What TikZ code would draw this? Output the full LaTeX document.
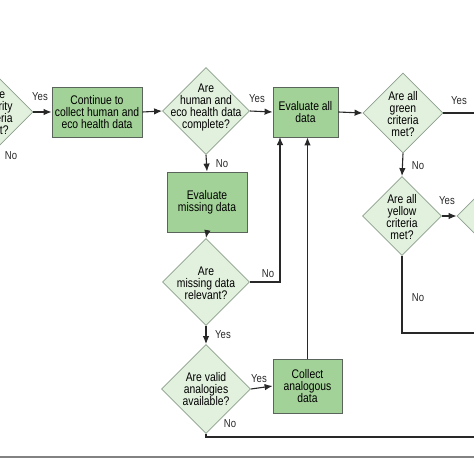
\documentclass[tikz,border=0pt]{standalone}
\usepackage{fontspec}
\setmainfont{Liberation Sans}[FakeStretch=0.83]
\usetikzlibrary{shapes.geometric,arrows.meta}
\definecolor{boxfill}{RGB}{163,210,152}
\definecolor{boxedge}{RGB}{90,100,90}
\definecolor{diafill}{RGB}{226,240,222}
\definecolor{diaedge}{RGB}{140,160,140}
\definecolor{lineclr}{RGB}{40,40,40}
\definecolor{sepclr}{RGB}{130,130,130}
\begin{document}
\begin{tikzpicture}[x=1pt,y=-1pt,
  box/.style={draw=boxedge, fill=boxfill, line width=0.8pt, inner sep=0pt, align=center,
    font=\fontsize{12.5}{12}\selectfont, text=black},
  dia/.style={diamond, draw=diaedge, fill=diafill, line width=0.8pt, inner sep=0pt},
  dtext/.style={align=center, font=\fontsize{12.5}{12}\selectfont, text=black, inner sep=0pt},
  lab/.style={font=\fontsize{11.5}{12}\selectfont, text=lineclr, inner sep=0pt},
  conn/.style={draw=lineclr, line width=1.1pt},
  arr/.style={conn, -{Latex[length=8pt,width=6.5pt]}}]
\useasboundingbox (0,0) rectangle (474,474);
\clip (0,0) rectangle (474,474);
% nodes
\node[dia, minimum width=90pt, minimum height=90pt] (d1) at (-12,112) {};
\node[dtext] (d1t) at (-3,112) {Are\\priority\\criteria\\met?};
\node[box, minimum width=90pt, minimum height=50pt] (b1) at (97,112) {Continue to\\collect human and\\eco health data};
\node[dia, minimum width=87pt, minimum height=87pt] (d2) at (206,111) {};
\node[dtext] (d2t) at (206,107) {Are\\human and\\eco health data\\complete?};
\node[box, minimum width=65pt, minimum height=50pt] (b2) at (305.5,112) {Evaluate all\\data};
\node[dia, minimum width=80pt, minimum height=80pt] (d3) at (403,113) {};
\node[dtext] (d3t) at (403,114) {Are all\\green\\criteria\\met?};
\node[dia, minimum width=79pt, minimum height=79pt] (d4) at (402,216) {};
\node[dtext] (d4t) at (402,217) {Are all\\yellow\\criteria\\met?};
\node[dia, minimum width=80pt, minimum height=80pt] (d7) at (497,216) {};
\node[box, minimum width=80pt, minimum height=60pt] (b3) at (207,202) {Evaluate\\missing data};
\node[dia, minimum width=87pt, minimum height=87pt] (d5) at (206,282) {};
\node[dtext] (d5t) at (206,283) {Are\\missing data\\relevant?};
\node[dia, minimum width=89pt, minimum height=89pt] (d6) at (206,389) {};
\node[dtext] (d6t) at (206,389) {Are valid\\analogies\\available?};
\node[box, minimum width=69pt, minimum height=54pt] (b4) at (307.5,386) {Collect\\analogous\\data};
% free ends
\coordinate (e3) at (474,113);
\coordinate (e4) at (474,333);
\coordinate (e6) at (474,437);
\coordinate (n5) at (280,137);
% connectors
\draw[arr] (d1.east) -- (b1.west);
\draw[arr] (b1.east) -- (d2.west);
\draw[arr] (d2.east) -- (b2.west);
\draw[arr] (b2.east) -- (d3.west);
\draw[conn] (d3.east) -- (e3);
\draw[arr] (d3.south) -- (d4.north);
\draw[arr] (d4.east) -- (d7.west);
\draw[conn] (d4.south) |- (e4);
\draw[arr] (d2.south) -- (b3.north);
\draw[arr] (b3.south) -- (d5.north);
\draw[arr] (d5.east) -| (n5);
\draw[arr] (d5.south) -- (d6.north);
\draw[arr] (d6.east) -- (b4.west);
\draw[arr] (b4.north) -- (b4.north |- b2.south);
\draw[conn] (d6.south) |- (e6);
% separator
\draw[sepclr, line width=1.3pt] (0,457) -- (474,457);
% labels
\node[lab] (l1) at (40,97) {Yes};
\node[lab] (l1n) at (11,156) {No};
\node[lab] (l2) at (257,99) {Yes};
\node[lab] (l2n) at (222,164) {No};
\node[lab] (l3) at (459,101) {Yes};
\node[lab] (l3n) at (418,166) {No};
\node[lab] (l4) at (447,201) {Yes};
\node[lab] (l4n) at (418,298) {No};
\node[lab] (l5n) at (268,274) {No};
\node[lab] (l5) at (223,335) {Yes};
\node[lab] (l6) at (259,379) {Yes};
\node[lab] (l6n) at (230,424) {No};
\end{tikzpicture}
\end{document}
